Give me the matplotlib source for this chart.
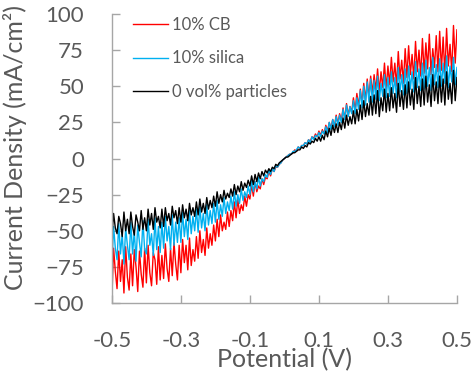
import matplotlib
matplotlib.use("Agg")
import matplotlib.pyplot as plt
import numpy as np

# potential sweep, -0.5 V to 0.5 V in 5 mV steps
potential = np.round(np.arange(-100, 101) * 0.005, 3)

cb_10 = [-97, -62, -78, -90, -64, -85, -70, -93, -61, -82,
         -91, -66, -88, -63, -75, -92, -64, -80, -89, -62,
         -86, -60, -79, -88, -65, -70, -87, -61, -84, -67,
         -83, -59, -76, -85, -62, -81, -58, -73, -84, -60,
         -79, -56, -72, -60, -77, -55, -74, -63, -71, -54,
         -69, -50, -65, -56, -67, -48, -62, -52, -60, -46,
         -57, -42, -54, -39, -50, -44, -49, -37, -47, -36,
         -43, -30, -41, -28, -38, -32, -36, -26, -33, -25,
         -28, -18, -26, -16, -23, -19, -21, -14, -18, -13,
         -14, -9, -12, -7, -9, -6, -6, -4, -3, -1,
         0,
         1, 2, 3, 3, 4, 6, 5, 8, 7, 9,
         9, 11, 10, 13, 12, 15, 14, 17, 15, 19,
         16, 20, 17, 23, 19, 25, 21, 27, 22, 30,
         24, 31, 26, 35, 27, 38, 30, 36, 32, 42,
         33, 45, 36, 48, 38, 52, 40, 55, 42, 57,
         45, 58, 47, 62, 46, 60, 49, 66, 48, 64,
         51, 70, 53, 66, 50, 74, 55, 68, 52, 76,
         56, 78, 58, 72, 55, 81, 60, 75, 57, 83,
         59, 80, 62, 86, 58, 76, 63, 85, 60, 88,
         61, 84, 58, 90, 64, 79, 60, 92, 66, 89]

silica_10 = [-75, -47, -62, -70, -45, -66, -52, -73, -48, -60,
             -70, -44, -66, -50, -71, -46, -58, -68, -43, -63,
             -66, -42, -60, -52, -67, -41, -63, -47, -65, -44,
             -62, -40, -57, -47, -63, -39, -60, -44, -58, -41,
             -58, -37, -54, -42, -56, -36, -52, -40, -50, -35,
             -51, -33, -48, -38, -50, -32, -46, -36, -45, -31,
             -44, -29, -42, -32, -40, -27, -38, -30, -36, -26,
             -35, -23, -33, -25, -31, -21, -29, -23, -27, -19,
             -25, -15, -23, -16, -21, -13, -19, -14, -16, -11,
             -13, -8, -11, -7, -9, -5, -6, -4, -3, -1,
             0,
             1, 2, 3, 3, 5, 5, 6, 8, 7, 9,
             9, 11, 10, 13, 11, 15, 13, 16, 15, 18,
             15, 19, 17, 22, 18, 25, 20, 27, 22, 29,
             23, 30, 25, 34, 27, 37, 29, 36, 31, 40,
             31, 42, 34, 47, 35, 50, 37, 53, 39, 55,
             39, 54, 41, 57, 40, 52, 43, 58, 42, 56,
             43, 60, 45, 56, 42, 63, 46, 58, 44, 62,
             45, 64, 48, 60, 46, 67, 49, 62, 47, 66,
             48, 68, 50, 63, 47, 70, 51, 65, 49, 69,
             50, 66, 52, 71, 49, 64, 53, 70, 51, 63]

no_particles = [-55, -38, -48, -52, -40, -45, -54, -37, -50, -42,
                -52, -37, -47, -53, -39, -44, -50, -36, -49, -41,
                -50, -35, -46, -38, -49, -34, -44, -40, -48, -35,
                -47, -34, -43, -38, -46, -33, -41, -36, -45, -34,
                -44, -32, -41, -35, -43, -31, -39, -34, -40, -30,
                -39, -28, -37, -31, -38, -27, -35, -29, -34, -26,
                -33, -23, -31, -25, -30, -22, -28, -24, -27, -21,
                -26, -18, -25, -19, -23, -16, -22, -17, -20, -15,
                -19, -12, -18, -11, -16, -10, -14, -9, -12, -8,
                -10, -7, -9, -6, -7, -4, -5, -3, -2, -1,
                0,
                1, 1, 2, 3, 4, 4, 5, 6, 6, 8,
                7, 9, 8, 11, 10, 12, 11, 14, 12, 15,
                12, 16, 13, 19, 15, 21, 16, 23, 18, 24,
                18, 25, 20, 28, 21, 30, 23, 29, 24, 33,
                24, 34, 26, 37, 27, 40, 29, 38, 30, 43,
                30, 44, 31, 47, 29, 42, 33, 48, 32, 45,
                33, 49, 35, 45, 32, 52, 36, 47, 34, 51,
                35, 53, 37, 48, 34, 56, 38, 50, 36, 55,
                37, 57, 39, 51, 36, 58, 40, 53, 38, 57,
                39, 55, 37, 60, 41, 52, 38, 61, 40, 56]

labels = ["10% CB", "10% silica", "0 vol% particles"]
colors = ["#FF0000", "#00B0F0", "#000000"]

xticks = [-0.5, -0.3, -0.1, 0.1, 0.3, 0.5]
yticks = [-100, -75, -50, -25, 0, 25, 50, 75, 100]

plt.rcParams['font.family'] = ['Lato', 'DejaVu Sans']
text_gray = "#595959"
axis_gray = "#A6A6A6"

fig = plt.figure(figsize=(4.74, 3.77), dpi=100)
ax = fig.add_axes([0.236, 0.196, 0.728, 0.767])

for series, lab, col in zip([cb_10, silica_10, no_particles], labels, colors):
    ax.plot(potential, series, color=col, lw=1.0, label=lab)

ax.set_xlim(-0.5, 0.5)
ax.set_ylim(-100, 100)
ax.set_xticks(xticks)
ax.set_xticklabels([f"{t:g}" for t in xticks])
ax.set_yticks(yticks)

for side in ["top", "right"]:
    ax.spines[side].set_visible(False)
for side in ["left", "bottom"]:
    ax.spines[side].set_color(axis_gray)
    ax.spines[side].set_linewidth(1.0)

ax.tick_params(axis="both", direction="in", length=6, width=1,
               color=axis_gray, labelcolor=text_gray, labelsize=16, pad=20)

ax.set_xlabel("Potential (V)", fontsize=18, color=text_gray, labelpad=-2)
fig.text(0.032, 0.61, "Current Density (mA/cm²)", rotation=90,
         fontsize=18, color=text_gray, ha="center", va="center")

ax.legend(loc="upper left", bbox_to_anchor=(0.06, 0.99), frameon=False,
          fontsize=12, labelcolor=text_gray, handlelength=2.1,
          handletextpad=0.25, labelspacing=1.05, borderpad=0, borderaxespad=0)

fig.savefig("out.png", dpi=100)
